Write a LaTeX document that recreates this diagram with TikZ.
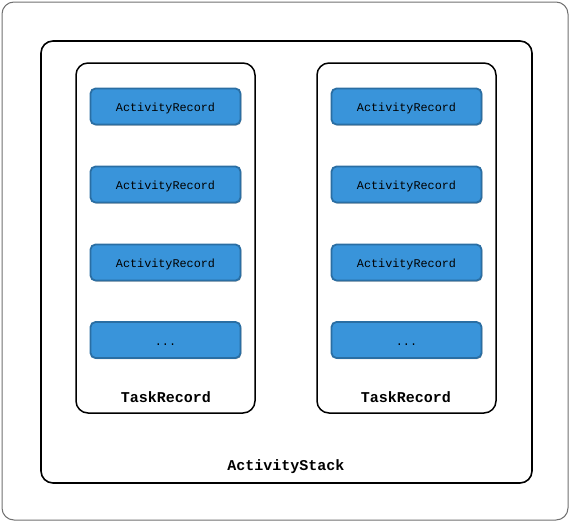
\documentclass[tikz,border=0pt]{standalone}
\usepackage{fontspec}
\setmonofont{Liberation Mono}
\usetikzlibrary{shadows}
\definecolor{recfill}{HTML}{3994DA}
\definecolor{recedge}{HTML}{2A6EA3}
\definecolor{frame}{HTML}{707070}
\tikzset{
  x=1pt,y=-1pt,
  outerbox/.style={draw=frame,line width=1pt,rounded corners=12pt},
  stackbox/.style={draw=black,line width=1.6pt,rounded corners=12pt},
  taskbox/.style={draw=black,line width=1.5pt,rounded corners=12pt},
  recbox/.style={draw=recedge,line width=1.8pt,fill=recfill,rounded corners=5pt,
    minimum width=150pt,minimum height=36pt,inner sep=0pt,
    text height=10pt,text depth=0pt,
    font=\ttfamily\fontsize{11.8}{13}\selectfont,text=black,
    drop shadow={shadow xshift=0.8pt,shadow yshift=-1pt,opacity=0.35,fill=black}},
  titletext/.style={font=\ttfamily\bfseries\fontsize{15}{17}\selectfont,inner sep=0pt}
}
\begin{document}
\begin{tikzpicture}
\useasboundingbox (0,0) rectangle (571,522);
\draw[outerbox] (2,2) rectangle (568,520);
\draw[stackbox] (41,41) rectangle (532,483);
\node[titletext] (stack) at (286,467) {ActivityStack};
\draw[taskbox] (76,63) rectangle (255,413);
\draw[taskbox] (317,63) rectangle (496,413);
\node[titletext] (taskA) at (166,397) {TaskRecord};
\node[titletext] (taskB) at (406,397) {TaskRecord};
\node[recbox] (a1) at (165.5,106.5) {ActivityRecord};
\node[recbox] (a2) at (165.5,184.5) {ActivityRecord};
\node[recbox] (a3) at (165.5,262.5) {ActivityRecord};
\node[recbox] (a4) at (165.5,340) {...};
\node[recbox] (b1) at (406.5,106.5) {ActivityRecord};
\node[recbox] (b2) at (406.5,184.5) {ActivityRecord};
\node[recbox] (b3) at (406.5,262.5) {ActivityRecord};
\node[recbox] (b4) at (406.5,340) {...};
\end{tikzpicture}
\end{document}
